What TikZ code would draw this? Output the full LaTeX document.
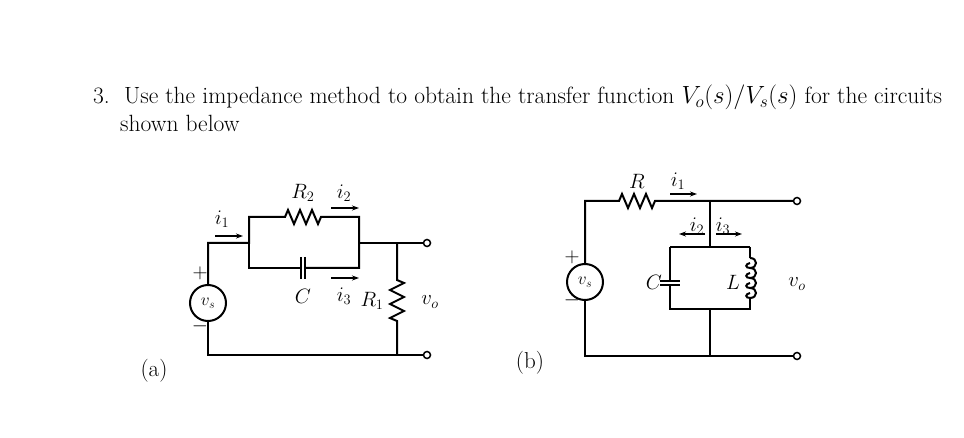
\documentclass[tikz,border=0pt]{standalone}
\usetikzlibrary{arrows.meta}
\begin{document}
\begin{tikzpicture}[x=1pt,y=-1pt,
  wire/.style={line width=2pt},
  cur/.style={-{Stealth[length=7pt,width=5pt]},line width=1.6pt},
  lbl/.style={font=\fontsize{20}{20}\selectfont,inner sep=0pt},
  term/.style={circle,draw,line width=1.5pt,minimum size=7pt,inner sep=0pt,fill=white},
  src/.style={circle,draw,line width=2pt,minimum size=36pt,inner sep=0pt,font=\fontsize{17}{17}\selectfont}]
\useasboundingbox (0,0) rectangle (964,438);
\node[anchor=base west,inner sep=0pt,font=\fontsize{23.5}{28}\selectfont] (t1) at (93,104) {3.\ \ Use the impedance method to obtain the transfer function $V_o(s)/V_s(s)$ for the circuits};
\node[anchor=base west,inner sep=0pt,font=\fontsize{23.5}{28}\selectfont] (t2) at (120,132) {shown below};
% ---- (a)
\node[src] (vsa) at (208,303) {$v_s$};
\coordinate (a1) at (208,243); \coordinate (a2) at (249,243);
\coordinate (a3) at (249,217); \coordinate (a4) at (249,268);
\coordinate (a5) at (359,217); \coordinate (a6) at (359,268);
\coordinate (a7) at (359,243); \coordinate (a8) at (397,243);
\coordinate (a9) at (397,355); \coordinate (a10) at (208,355);
\node[term] (ta1) at (427,243) {}; \node[term] (ta2) at (427,355) {};
\draw[wire] (vsa.north) -- (a1) -- (a2) -- (a3) -- (285,217) -- (288,210) -- (294,224) -- (300,210) -- (306,224) -- (312,210) -- (318,224) -- (321,217) -- (a5) -- (a6) -- (305,268);
\draw[wire] (301,268) -- (a4) -- (a2);
\draw[wire] (301,257) -- (301,279); \draw[wire] (305,257) -- (305,279);
\draw[wire] (a7) -- (ta1.west);
\draw[wire] (a8) -- (397,280) -- (404,283) -- (390,290) -- (404,297) -- (390,304) -- (404,311) -- (390,318) -- (397,321) -- (a9);
\draw[wire] (vsa.south) -- (a10) -- (ta2.west);
\node[lbl] at (222,219) {$i_1$}; \draw[cur] (215,236) -- (243,236);
\node[lbl] at (303,193) {$R_2$}; \node[lbl] at (344,193) {$i_2$}; \draw[cur] (331,208) -- (359,208);
\node[lbl] at (303,296) {$C$}; \node[lbl] at (344,296) {$i_3$}; \draw[cur] (331,278) -- (359,278);
\node[lbl] at (372,301) {$R_1$}; \node[lbl] at (430,302) {$v_o$};
\node[lbl] at (200,273) {$+$}; \node[lbl] at (200,326) {$-$};
\node[lbl,font=\fontsize{23}{23}\selectfont] at (154,371) {(a)};
% ---- (b)
\node[src] (vsb) at (585,282) {$v_s$};
\coordinate (b1) at (585,201); \coordinate (b2) at (710,201);
\coordinate (b3) at (710,247); \coordinate (b4) at (670,247); \coordinate (b5) at (750,247);
\coordinate (b6) at (670,309); \coordinate (b7) at (750,309); \coordinate (b8) at (710,309);
\coordinate (b9) at (710,356); \coordinate (b10) at (585,356);
\node[term] (tb1) at (797,201) {}; \node[term] (tb2) at (797,356) {};
\draw[wire] (vsb.north) -- (b1) -- (619,201) -- (622,194) -- (628,208) -- (634,194) -- (640,208) -- (646,194) -- (652,208) -- (655,201) -- (b2) -- (tb1.west);
\draw[wire] (b2) -- (b3); \draw[wire] (b4) -- (b5);
\draw[wire] (b4) -- (670,281) (670,285) -- (b6) -- (b7) -- (750,298);
\draw[wire] (660,281) -- (680,281); \draw[wire] (660,285) -- (680,285);
\draw[wire] (b5) -- (750,258);
\foreach \y in {258,268,278,288} {\draw[wire] (750,\y) .. controls (758,\y) and (758,\y+10) .. (750,\y+10) .. controls (745,\y+10) and (745,\y+6) .. (750,\y+5);}
\draw[wire] (b8) -- (b9) -- (b10) -- (vsb.south); \draw[wire] (b9) -- (tb2.west);
\node[lbl] at (637,181) {$R$}; \node[lbl] at (678,181) {$i_1$}; \draw[cur] (670,194) -- (697,194);
\node[lbl] at (697,226) {$i_2$}; \draw[cur] (705,234) -- (679,234);
\node[lbl] at (723,226) {$i_3$}; \draw[cur] (716,234) -- (742,234);
\node[lbl] at (654,282) {$C$}; \node[lbl] at (733,282) {$L$};
\node[lbl] at (797,284) {$v_o$};
\node[lbl] at (572,257) {$+$}; \node[lbl] at (572,300) {$-$};
\node[lbl,font=\fontsize{23}{23}\selectfont] at (530,363) {(b)};
\end{tikzpicture}
\end{document}
